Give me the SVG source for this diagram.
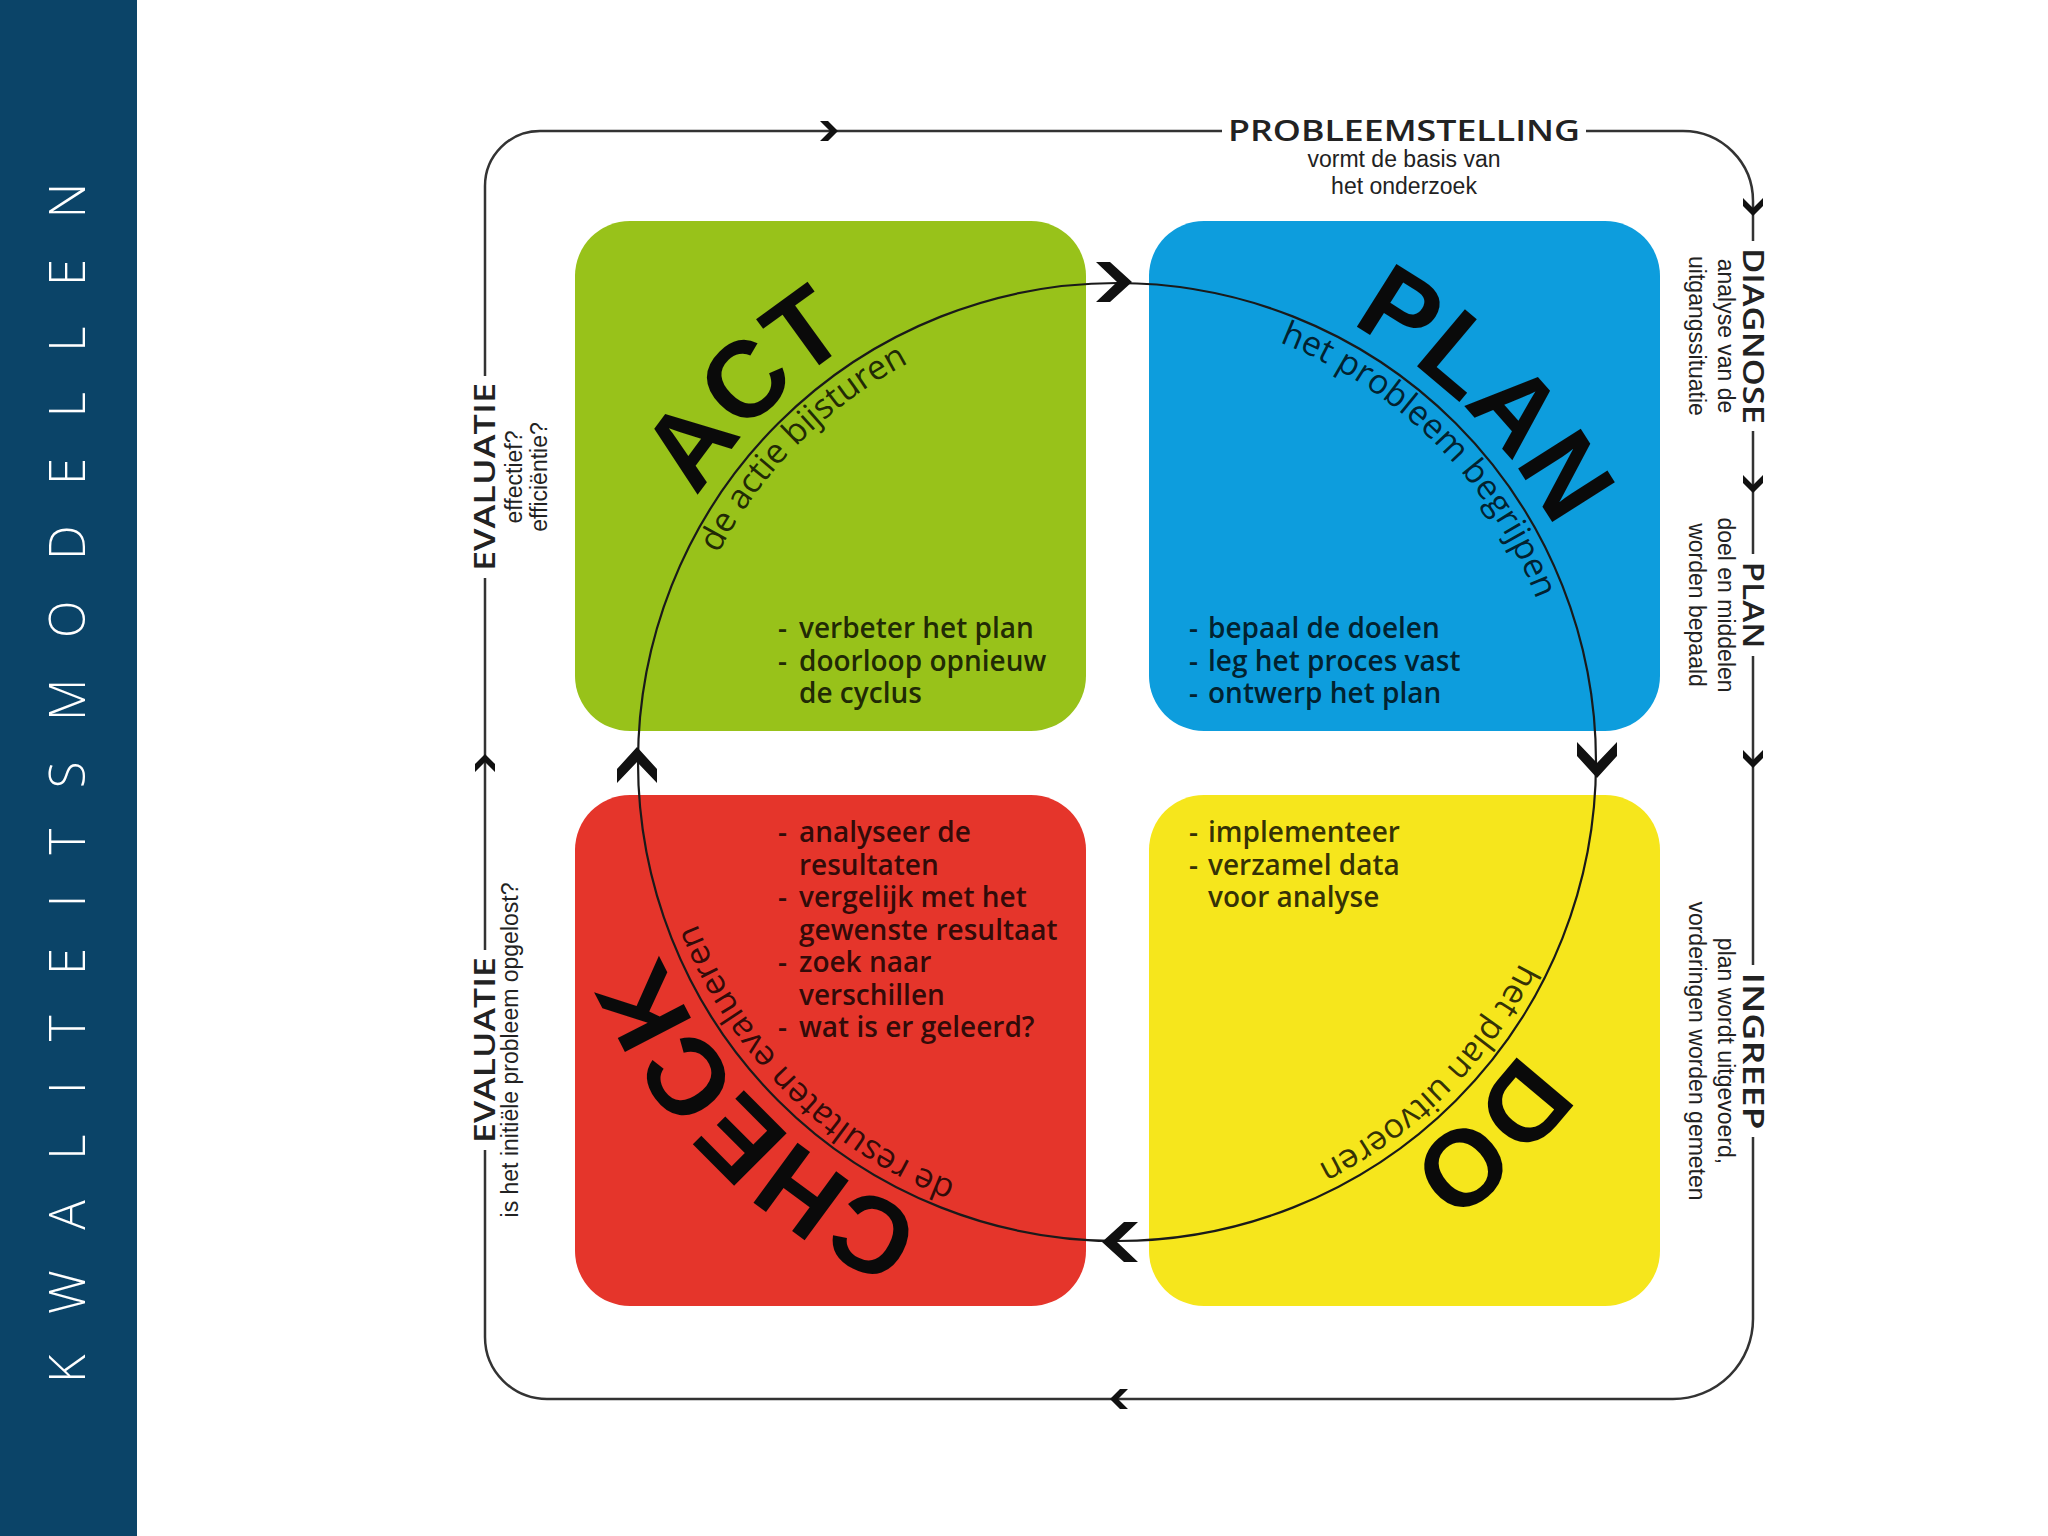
<svg xmlns="http://www.w3.org/2000/svg" width="2048" height="1536" viewBox="0 0 2048 1536">
<style>
.side{font-family:"Open Sans","Lato","Liberation Sans",sans-serif;font-weight:300;font-size:49px;fill:#ffffff}
.lbl{font-family:"Open Sans","Liberation Sans",sans-serif;font-weight:600;font-size:28px;fill:#222222}
.sub{font-family:"Liberation Sans","Open Sans",sans-serif;font-size:23px;fill:#222222}
.gap{fill:#ffffff}
.loop{fill:none;stroke:#333333;stroke-width:2.5}
.ring{fill:none;stroke:#1a1a1a;stroke-width:2.2}
.big{font-family:"Liberation Sans",Arial,sans-serif;font-weight:700;font-size:108px;fill:#0a0a0a}
.cap{font-family:"Open Sans","Liberation Sans",sans-serif;font-size:34px;fill:#000000;fill-opacity:0.8}
.list{font-family:"Open Sans","Liberation Sans",sans-serif;font-weight:600;font-size:28px;fill:#000000;fill-opacity:0.8}
.arrow{fill:#111111}
</style>
<defs>
<path id="chevBig" d="M0 0 L-22 -20 L-36 -20 L-15 0 L-36 20 L-22 20 Z"/>
<path id="chevSmall" d="M0 0 L-10 -10 L-18 -10 L-8 0 L-18 10 L-10 10 Z"/>
<path id="rOut" d="M 621 762 A 496 496 0 1 1 1613 762 A 496 496 0 1 1 621 762"/>
<path id="rIn" d="M 667 762 A 450 450 0 1 1 1567 762 A 450 450 0 1 1 667 762"/>
</defs>
<rect x="0" y="0" width="2048" height="1536" fill="#ffffff"/>
<g id="sidebar">
<rect x="0" y="0" width="137" height="1536" fill="#0b4468"/>
<text class="side" transform="translate(85,783) rotate(-90)" text-anchor="middle" textLength="1200" lengthAdjust="spacing">K W A L I T E I T S M O D E L L E N</text>
</g>
<g id="node-act">
<rect x="575" y="221" width="511" height="510" rx="55" fill="#98c21a"/>
</g>
<g id="node-plan">
<rect x="1149" y="221" width="511" height="510" rx="55" fill="#0d9ddd"/>
</g>
<g id="node-check">
<rect x="575" y="795" width="511" height="511" rx="55" fill="#e5352b"/>
</g>
<g id="node-do">
<rect x="1149" y="795" width="511" height="511" rx="55" fill="#f6e61c"/>
</g>
<g id="connectors">
<path class="loop" d="M 540 131 H 1683 A 70 70 0 0 1 1753 201 V 1319 A 80 80 0 0 1 1673 1399 H 547 A 62 62 0 0 1 485 1337 V 186 A 55 55 0 0 1 540 131 Z"/>
<circle class="ring" cx="1117" cy="762" r="479"/>
<g class="arrow">
<use href="#chevBig" transform="translate(1132,282)"/>
<use href="#chevBig" transform="translate(1597,778) rotate(90)"/>
<use href="#chevBig" transform="translate(1102,1242) rotate(180)"/>
<use href="#chevBig" transform="translate(637,747) rotate(-90)"/>
<use href="#chevSmall" transform="translate(838,131)"/>
<use href="#chevSmall" transform="translate(1753,216) rotate(90)"/>
<use href="#chevSmall" transform="translate(1753,493) rotate(90)"/>
<use href="#chevSmall" transform="translate(1753,768) rotate(90)"/>
<use href="#chevSmall" transform="translate(1110,1399) rotate(180)"/>
<use href="#chevSmall" transform="translate(485,754) rotate(-90)"/>
</g>
</g>
<g id="label-probleemstelling">
<rect class="gap" x="1222" y="118" width="364" height="26"/>
<text class="lbl" x="1404" y="141" text-anchor="middle" textLength="352" lengthAdjust="spacingAndGlyphs">PROBLEEMSTELLING</text>
<text class="sub" x="1404" y="167" text-anchor="middle">vormt de basis van</text>
<text class="sub" x="1404" y="194" text-anchor="middle">het onderzoek</text>
</g>
<g id="label-diagnose" transform="translate(1753,336) rotate(90)">
<rect class="gap" x="-95" y="-13" width="190" height="26"/>
<text class="lbl" x="0" y="10" text-anchor="middle" textLength="176" lengthAdjust="spacingAndGlyphs">DIAGNOSE</text>
<text class="sub" x="0" y="35" text-anchor="middle">analyse van de</text>
<text class="sub" x="0" y="64" text-anchor="middle">uitgangssituatie</text>
</g>
<g id="label-plan" transform="translate(1753,605) rotate(90)">
<rect class="gap" x="-51" y="-13" width="102" height="26"/>
<text class="lbl" x="0" y="10" text-anchor="middle" textLength="87" lengthAdjust="spacingAndGlyphs">PLAN</text>
<text class="sub" x="0" y="35" text-anchor="middle">doel en middelen</text>
<text class="sub" x="0" y="64" text-anchor="middle">worden bepaald</text>
</g>
<g id="label-ingreep" transform="translate(1753,1051) rotate(90)">
<rect class="gap" x="-86" y="-13" width="172" height="26"/>
<text class="lbl" x="0" y="10" text-anchor="middle" textLength="157" lengthAdjust="spacingAndGlyphs">INGREEP</text>
<text class="sub" x="0" y="35" text-anchor="middle">plan wordt uitgevoerd,</text>
<text class="sub" x="0" y="64" text-anchor="middle">vorderingen worden gemeten</text>
</g>
<g id="label-evaluatie-1" transform="translate(485,477) rotate(-90)">
<rect class="gap" x="-101" y="-13" width="202" height="26"/>
<text class="lbl" x="0" y="10" text-anchor="middle" textLength="188" lengthAdjust="spacingAndGlyphs">EVALUATIE</text>
<text class="sub" x="0" y="37" text-anchor="middle">effectief?</text>
<text class="sub" x="0" y="62" text-anchor="middle">efficiëntie?</text>
</g>
<g id="label-evaluatie-2" transform="translate(485,1050) rotate(-90)">
<rect class="gap" x="-100" y="-13" width="200" height="26"/>
<text class="lbl" x="0" y="10" text-anchor="middle" textLength="186" lengthAdjust="spacingAndGlyphs">EVALUATIE</text>
<text class="sub" x="0" y="33" text-anchor="middle">is het initiële probleem opgelost?</text>
</g>
<g id="text-act">
<text class="big" text-anchor="middle"><textPath href="#rOut" startOffset="12.5%">ACT</textPath></text>
<text class="cap" text-anchor="middle"><textPath href="#rIn" startOffset="12.5%">de actie bijsturen</textPath></text>
<text class="list"><tspan x="778" y="638">-</tspan><tspan x="799" y="638">verbeter het plan</tspan><tspan x="778" y="670.5">-</tspan><tspan x="799" y="670.5">doorloop opnieuw</tspan><tspan x="799" y="703">de cyclus</tspan></text>
</g>
<g id="text-plan">
<text class="big" text-anchor="middle"><textPath href="#rOut" startOffset="37.5%">PLAN</textPath></text>
<text class="cap" text-anchor="middle"><textPath href="#rIn" startOffset="37.5%">het probleem begrijpen</textPath></text>
<text class="list"><tspan x="1189" y="638">-</tspan><tspan x="1208" y="638">bepaal de doelen</tspan><tspan x="1189" y="670.5">-</tspan><tspan x="1208" y="670.5">leg het proces vast</tspan><tspan x="1189" y="703">-</tspan><tspan x="1208" y="703">ontwerp het plan</tspan></text>
</g>
<g id="text-do">
<text class="big" text-anchor="middle"><textPath href="#rOut" startOffset="62.5%">DO</textPath></text>
<text class="cap" text-anchor="middle"><textPath href="#rIn" startOffset="62.5%">het plan uitvoeren</textPath></text>
<text class="list"><tspan x="1189" y="842">-</tspan><tspan x="1208" y="842">implementeer</tspan><tspan x="1189" y="874.5">-</tspan><tspan x="1208" y="874.5">verzamel data</tspan><tspan x="1208" y="907">voor analyse</tspan></text>
</g>
<g id="text-check">
<text class="big" text-anchor="middle"><textPath href="#rOut" startOffset="87.5%">CHECK</textPath></text>
<text class="cap" text-anchor="middle"><textPath href="#rIn" startOffset="87.5%">de resultaten evalueren</textPath></text>
<text class="list"><tspan x="778" y="842">-</tspan><tspan x="799" y="842">analyseer de</tspan><tspan x="799" y="874.5">resultaten</tspan><tspan x="778" y="907">-</tspan><tspan x="799" y="907">vergelijk met het</tspan><tspan x="799" y="939.5">gewenste resultaat</tspan><tspan x="778" y="972">-</tspan><tspan x="799" y="972">zoek naar</tspan><tspan x="799" y="1004.5">verschillen</tspan><tspan x="778" y="1037">-</tspan><tspan x="799" y="1037">wat is er geleerd?</tspan></text>
</g>
</svg>
